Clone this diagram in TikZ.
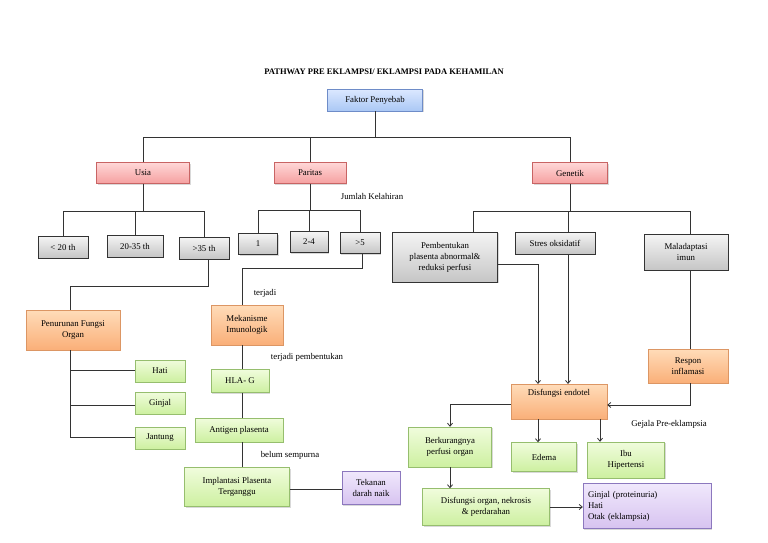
\documentclass[tikz,border=0pt]{standalone}
\usepackage{fontspec}
\setmainfont{Liberation Serif}
\usetikzlibrary{arrows.meta,shadows}
\definecolor{bl1}{RGB}{220,232,255}\definecolor{bl2}{RGB}{170,200,245}\definecolor{bld}{RGB}{110,140,200}
\definecolor{pk1}{RGB}{255,215,215}\definecolor{pk2}{RGB}{245,160,160}\definecolor{pkd}{RGB}{200,100,100}
\definecolor{or1}{RGB}{255,220,185}\definecolor{or2}{RGB}{250,175,120}\definecolor{ord}{RGB}{220,150,100}
\definecolor{gr1}{RGB}{240,252,220}\definecolor{gr2}{RGB}{205,240,160}\definecolor{grd}{RGB}{150,190,110}
\definecolor{pu1}{RGB}{240,232,252}\definecolor{pu2}{RGB}{215,195,240}\definecolor{pud}{RGB}{140,120,190}
\begin{document}
\begin{tikzpicture}[x=1pt,y=-1pt,
  font=\fontsize{8.8}{11}\selectfont,
  box/.style={draw,align=center,inner sep=1pt,drop shadow={shadow xshift=1pt,shadow yshift=-1pt,opacity=.3}},
  blue/.style={box,top color=bl1,bottom color=bl2,draw=bld},
  pink/.style={box,top color=pk1,bottom color=pk2,draw=pkd},
  grey/.style={box,top color=gray!8,bottom color=gray!45,draw=black!80},
  orng/.style={box,top color=or1,bottom color=or2,draw=ord},
  grn/.style={box,top color=gr1,bottom color=gr2,draw=grd},
  purp/.style={box,top color=pu1,bottom color=pu2,draw=pud},
  ln/.style={draw=black!80,line width=0.8pt},
  ar/.style={ln,-{Straight Barb[length=3pt,width=5pt]}},
  lbl/.style={inner sep=0pt}]
\useasboundingbox (0,0) rectangle (768,543);
\node[font=\fontsize{8.5}{10}\selectfont\bfseries] (title) at (384,72) {PATHWAY PRE EKLAMPSI/ EKLAMPSI PADA KEHAMILAN};
\node[blue,minimum width=95,minimum height=22] (fp) at (375,100) {Faktor Penyebab};
\node[pink,minimum width=93,minimum height=21] (usia) at (143,173) {Usia};
\node[pink,minimum width=72,minimum height=21] (par) at (310,173) {Paritas};
\node[pink,minimum width=75,minimum height=21] (gen) at (570,173) {Genetik};
\node[grey,minimum width=50,minimum height=22] (u1) at (63,247) {< 20 th};
\node[grey,minimum width=56,minimum height=22] (u2) at (135,246) {20-35 th};
\node[grey,minimum width=50,minimum height=22] (u3) at (204,248) {>35 th};
\node[grey,minimum width=39,minimum height=21] (p1) at (258,244) {1};
\node[grey,minimum width=38,minimum height=21] (p2) at (309,242) {2-4};
\node[grey,minimum width=40,minimum height=21] (p3) at (360,243) {>5};
\node[lbl] (jk) at (372,196) {Jumlah Kelahiran};
\node[grey,minimum width=105,minimum height=50] (pem) at (445,257) {Pembentukan\\plasenta abnormal\&\\reduksi perfusi};
\node[grey,minimum width=80,minimum height=22] (st) at (555,243) {Stres oksidatif};
\node[grey,minimum width=84,minimum height=36] (mal) at (686,252) {Maladaptasi\\imun};
\node[orng,minimum width=80,minimum height=34] (res) at (688,366) {Respon\\inflamasi};
\node[orng,minimum width=96,minimum height=35,anchor=north] (de) at (559,384) {Disfungsi endotel\\[7pt]};
\node[grn,minimum width=83,minimum height=40] (bk) at (450,447) {Berkurangnya\\perfusi organ};
\node[grn,minimum width=65,minimum height=29] (ed) at (544,457) {Edema};
\node[grn,minimum width=77,minimum height=36] (ih) at (626,460) {Ibu\\Hipertensi};
\node[lbl] (gj) at (669,424) {Gejala Pre-eklampsia};
\node[grn,minimum width=127,minimum height=37] (do) at (486,507) {Disfungsi organ, nekrosis\\\& perdarahan};
\node[purp,minimum width=128,minimum height=45,align=left,text width=118] (gh) at (647,506) {Ginjal (proteinuria)\\Hati\\Otak (eklampsia)};
\node[orng,minimum width=94,minimum height=40] (pf) at (73,330) {Penurunan Fungsi\\Organ};
\node[grn,minimum width=50,minimum height=22] (hati) at (160,371) {Hati};
\node[grn,minimum width=50,minimum height=22] (ginj) at (160,403) {Ginjal};
\node[grn,minimum width=50,minimum height=22] (jant) at (160,438) {Jantung};
\node[orng,minimum width=72,minimum height=40] (mek) at (247,325) {Mekanisme\\Imunologik};
\node[lbl] (tj) at (265,293) {terjadi};
\node[lbl] (tjp) at (307,357) {terjadi pembentukan};
\node[grn,minimum width=58,minimum height=23] (hla) at (240,381) {HLA- G};
\node[grn,minimum width=88,minimum height=24] (ant) at (239,430) {Antigen plasenta};
\node[lbl] (bs) at (290,455) {belum sempurna};
\node[grn,minimum width=105,minimum height=39] (imp) at (237,487) {Implantasi Plasenta\\Terganggu};
\node[purp,minimum width=58,minimum height=33] (tek) at (371,488) {Tekanan\\darah naik};
% tree lines
\draw[ln] (fp.south) -- (fp.south|-0,137) coordinate (b0);
\draw[ln] (usia.north) -- (usia.north|-b0) -- (gen.north|-b0) -- (gen.north);
\draw[ln] (par.north) -- (par.north|-b0);
\draw[ln] (usia.south) -- (usia.south|-0,211) coordinate (b1);
\draw[ln] (u1.north) -- (u1.north|-b1) -- (u3.north|-b1) -- (u3.north);
\draw[ln] (u2.north) -- (u2.north|-b1);
\draw[ln] (par.south) -- (par.south|-0,210) coordinate (b2);
\draw[ln] (p1.north) -- (p1.north|-b2) -- (p3.north|-b2) -- (p3.north);
\draw[ln] (p2.north) -- (p2.north|-b2);
\draw[ln] (gen.south) -- (gen.south|-0,211) coordinate (b3);
\draw[ln] (pem.north-|473,0) -- (473,211) -- (690,211) -- (mal.north-|690,0);
\draw[ln] (st.north-|568,0) -- (568,211);
% genetik paths
\draw[ar] (pem.east|-0,264) -- (538,264) -- (de.north-|538,0);
\draw[ar] (st.south-|568,0) -- (de.north-|568,0);
\draw[ln] (mal.south-|690,0) -- (res.north-|690,0);
\draw[ar] (res.south-|690,0) -- (690,405) -- (de.east|-0,405);
\draw[ar] (de.west|-0,404) -- (450,404) -- (bk.north);
\draw[ar] (de.south-|538,0) -- (ed.north-|538,0);
\draw[ar] (de.south-|600,0) -- (ih.north-|600,0);
\draw[ar] (bk.south) -- (do.north-|bk.south);
\draw[ar] (do.east) -- (gh.west|-do.east);
% left side
\draw[ln] (u3.south-|208,0) -- (208,286) -- (70,286) -- (pf.north-|70,0);
\draw[ln] (pf.south-|70,0) -- (70,437) -- (jant.west|-0,437);
\draw[ln] (70,370) -- (hati.west|-0,370);
\draw[ln] (70,405) -- (ginj.west|-0,405);
\draw[ln] (p3.south-|362,0) -- (362,268) -- (242,268) -- (mek.north-|242,0);
\draw[ln] (mek.south-|242,0) -- (hla.north-|242,0);
\draw[ln] (hla.south-|242,0) -- (ant.north-|242,0);
\draw[ln] (ant.south-|242,0) -- (imp.north-|242,0);
\draw[ln] (imp.east|-0,489) -- (tek.west|-0,489);
\end{tikzpicture}
\end{document}
